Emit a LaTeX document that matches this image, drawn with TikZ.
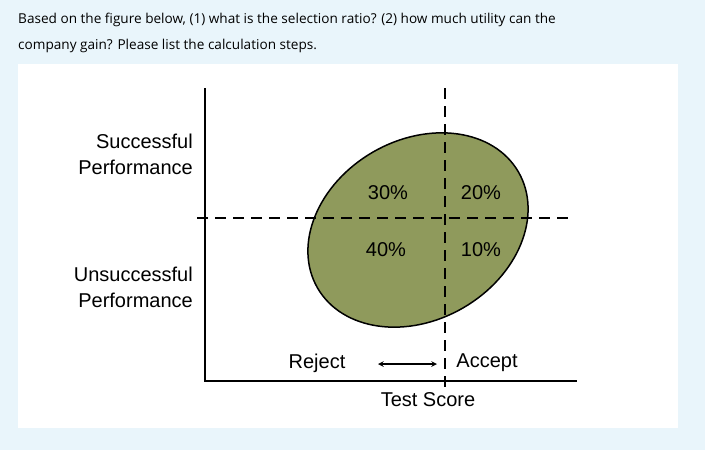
\documentclass[tikz,border=0pt]{standalone}
\usepackage{fontspec}
\setmainfont{Liberation Sans}
\newfontfamily\hdr{Open Sans}
\begin{document}
\begin{tikzpicture}[x=1pt,y=-1pt,
  lbl/.style={font=\fontsize{20}{24}\selectfont,inner sep=0pt},
  hd/.style={font=\hdr\fontsize{13.6}{16}\selectfont,anchor=west,inner sep=0pt},
  dsh/.style={line width=1.5pt,dash pattern=on 11pt off 7pt},
  ax/.style={line width=1.8pt}]
\fill[fill={rgb,255:red,233;green,245;blue,251}] (0,0) rectangle (705,450);
\fill[white] (18,64) rectangle (678,428);
\useasboundingbox (0,0) rectangle (705,450);
\node[hd] (q1) at (18,20) {Based on the figure below, (1) what is the selection ratio? (2) how much utility can the};
\node[hd] (q2) at (18,46) {company gain? Please list the calculation steps.};
\fill[fill={rgb,255:red,143;green,154;blue,92},draw=black,line width=1.5pt,rotate around={30:(418,230)}] (418,230) ellipse [x radius=116,y radius=90];
\coordinate (vt) at (205,88); \coordinate (o) at (205,381); \coordinate (hr) at (577,381);
\draw[ax] (vt) -- (o) -- (hr);
\coordinate (dl) at (197,218); \coordinate (dr) at (568,218);
\coordinate (dt) at (445,88); \coordinate (db) at (445,388);
\draw[dsh] (dl) -- (dr);
\draw[dsh] (dt) -- (db);
\node[lbl,align=right,anchor=east] (s) at (193,154) {Successful\\[2pt]Performance};
\node[lbl,align=right,anchor=east] (u) at (193,287) {Unsuccessful\\[2pt]Performance};
\node[lbl] (p30) at (388,193) {30\%};
\node[lbl] (p20) at (481,193) {20\%};
\node[lbl] (p40) at (386,250) {40\%};
\node[lbl] (p10) at (481,250) {10\%};
\node[lbl] (rej) at (317,363) {Reject};
\node[lbl] (acc) at (487,363) {Accept};
\node[lbl] (ts) at (428,400) {Test Score};
\coordinate (a1) at (378,364); \coordinate (a2) at (437,364);
\draw[line width=1.5pt,<->,>=stealth] (a1) -- (a2);
\end{tikzpicture}
\end{document}
